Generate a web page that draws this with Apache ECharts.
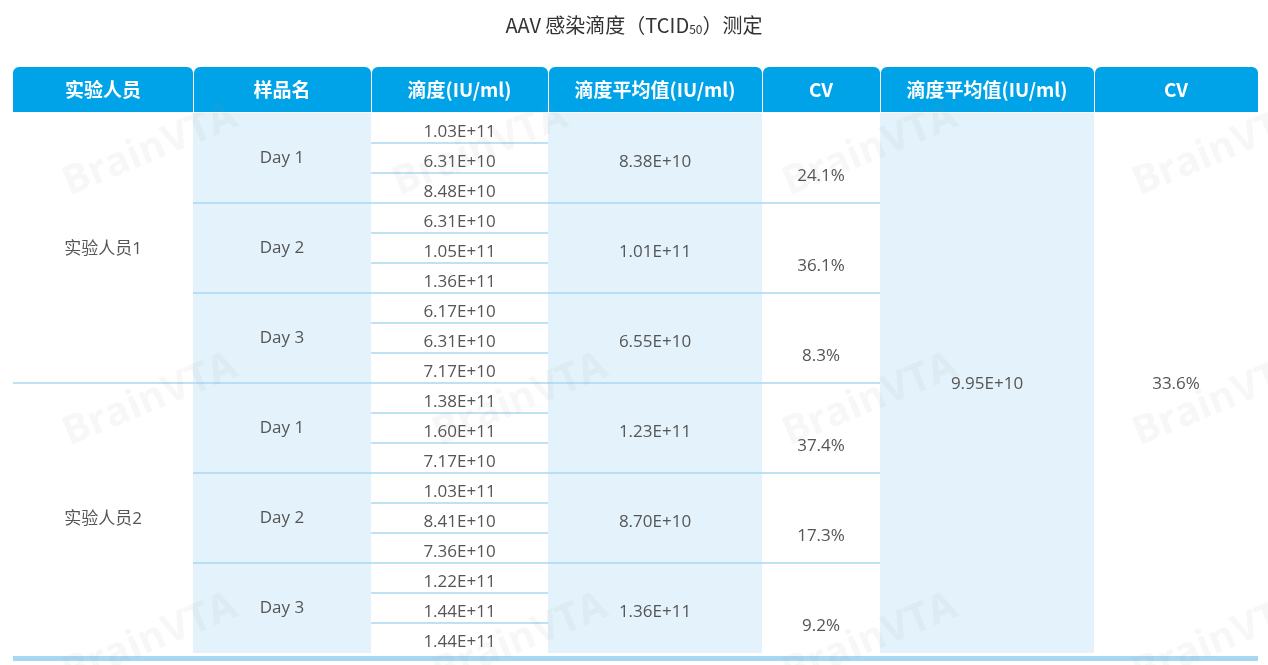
<!DOCTYPE html>
<html>
<head>
<meta charset="utf-8">
<script src="https://cdn.jsdelivr.net/npm/echarts@6/dist/echarts.min.js"></script>
<style>html,body{margin:0;padding:0;background:#fff}#main{width:1268px;height:665px}</style>
</head>
<body>
<div id="main"></div>
<script>
var headers = ['实验人员', '样品名', '滴度(IU/ml)', '滴度平均值(IU/ml)', 'CV', '滴度平均值(IU/ml)', 'CV'];
var persons = ['实验人员1', '实验人员2'];
var days = ['Day 1', 'Day 2', 'Day 3', 'Day 1', 'Day 2', 'Day 3'];
var titers = ['1.03E+11', '6.31E+10', '8.48E+10', '6.31E+10', '1.05E+11', '1.36E+11',
  '6.17E+10', '6.31E+10', '7.17E+10', '1.38E+11', '1.60E+11', '7.17E+10',
  '1.03E+11', '8.41E+10', '7.36E+10', '1.22E+11', '1.44E+11', '1.44E+11'];
var means = ['8.38E+10', '1.01E+11', '6.55E+10', '1.23E+11', '8.70E+10', '1.36E+11'];
var cvs = ['24.1%', '36.1%', '8.3%', '37.4%', '17.3%', '9.2%'];
var overallMean = '9.95E+10';
var overallCv = '33.6%';

var myChart = echarts.init(document.getElementById('main'));
var colX = [13, 193, 371, 548, 762, 880, 1094, 1258];
var top0 = 113, rowH = 30, headTop = 67;
var bg = ['#ffffff', '#e3f2fb', '#ffffff', '#e3f2fb', '#ffffff', '#e3f2fb', '#ffffff'];
var lineC = '#a9d7f2';
var txt = '#555555';
var els = [];

function cellText(x0, x1, y, s) {
  els.push({type: 'text', style: {text: s, x: (x0 + x1) / 2, y: y, align: 'center', verticalAlign: 'middle',
    font: '17px "Open Sans", "Noto Sans CJK SC", sans-serif', fill: txt}, z: 5});
}

// column backgrounds and headers
for (var c = 0; c < 7; c++) {
  els.push({type: 'rect', shape: {x: colX[c], y: top0, width: colX[c + 1] - colX[c], height: rowH * 18}, style: {fill: bg[c]}, z: 1});
  els.push({type: 'rect', shape: {x: colX[c] + (c ? 1 : 0), y: headTop, width: colX[c + 1] - colX[c] - (c ? 1 : 0), height: top0 - headTop - 1, r: [6, 6, 0, 0]},
    style: {fill: '#00a3e8'}, z: 2});
  els.push({type: 'text', style: {text: headers[c], x: (colX[c] + colX[c + 1]) / 2, y: 90, align: 'center', verticalAlign: 'middle',
    font: 'bold 19px "Noto Sans CJK SC", sans-serif', fill: '#ffffff'}, z: 5});
}

// titer rows
titers.forEach(function (t, i) {
  cellText(colX[2], colX[3], top0 + i * rowH + 19, t);
  if (i % 3 !== 2) {
    els.push({type: 'line', shape: {x1: colX[2], y1: top0 + (i + 1) * rowH, x2: colX[3], y2: top0 + (i + 1) * rowH}, style: {stroke: lineC, lineWidth: 1.5}, z: 3});
  }
});
// groups
days.forEach(function (d, g) {
  var y0 = top0 + g * 3 * rowH, yc = y0 + 1.5 * rowH;
  cellText(colX[1], colX[2], yc, d);
  cellText(colX[3], colX[4], yc + 4, means[g]);
  cellText(colX[4], colX[5], yc + 18, cvs[g]);
  if (g < 5) {
    els.push({type: 'line', shape: {x1: g === 2 ? colX[0] : colX[1], y1: y0 + 3 * rowH, x2: colX[5], y2: y0 + 3 * rowH}, style: {stroke: lineC, lineWidth: 1.5}, z: 3});
  }
});
persons.forEach(function (p, k) {
  cellText(colX[0], colX[1], top0 + k * 9 * rowH + 4.5 * rowH + 1, p);
});
cellText(colX[5], colX[6], top0 + 9 * rowH + 1, overallMean);
cellText(colX[6], colX[7], top0 + 9 * rowH + 1, overallCv);
els.push({type: 'rect', shape: {x: 13, y: 656, width: 1245, height: 5}, style: {fill: '#a6d8f2'}, z: 4});

// watermark
var wm = [[150, 150], [480, 150], [870, 150], [1220, 150], [150, 400], [520, 400], [870, 400], [1220, 400], [150, 640], [520, 640], [870, 640], [1220, 640]];
wm.forEach(function (p) {
  els.push({type: 'text', x: p[0], y: p[1], rotation: Math.PI / 8, style: {text: 'BrainVTA', align: 'center', verticalAlign: 'middle',
    font: 'bold 40px "Open Sans", sans-serif', fill: 'rgba(150,150,150,0.08)'}, z: 6});
});

option = {
  title: {
    text: 'AAV 感染滴度（TCID{s|50}）测定',
    left: 'center', top: 10,
    textStyle: {fontSize: 20, fontWeight: 'normal', color: '#333', fontFamily: '"Noto Sans CJK SC", sans-serif',
      rich: {s: {fontSize: 12, color: '#333', padding: [8, 0, 0, 0]}}}
  },
  graphic: els
};
myChart.setOption(option);
</script>
</body>
</html>
